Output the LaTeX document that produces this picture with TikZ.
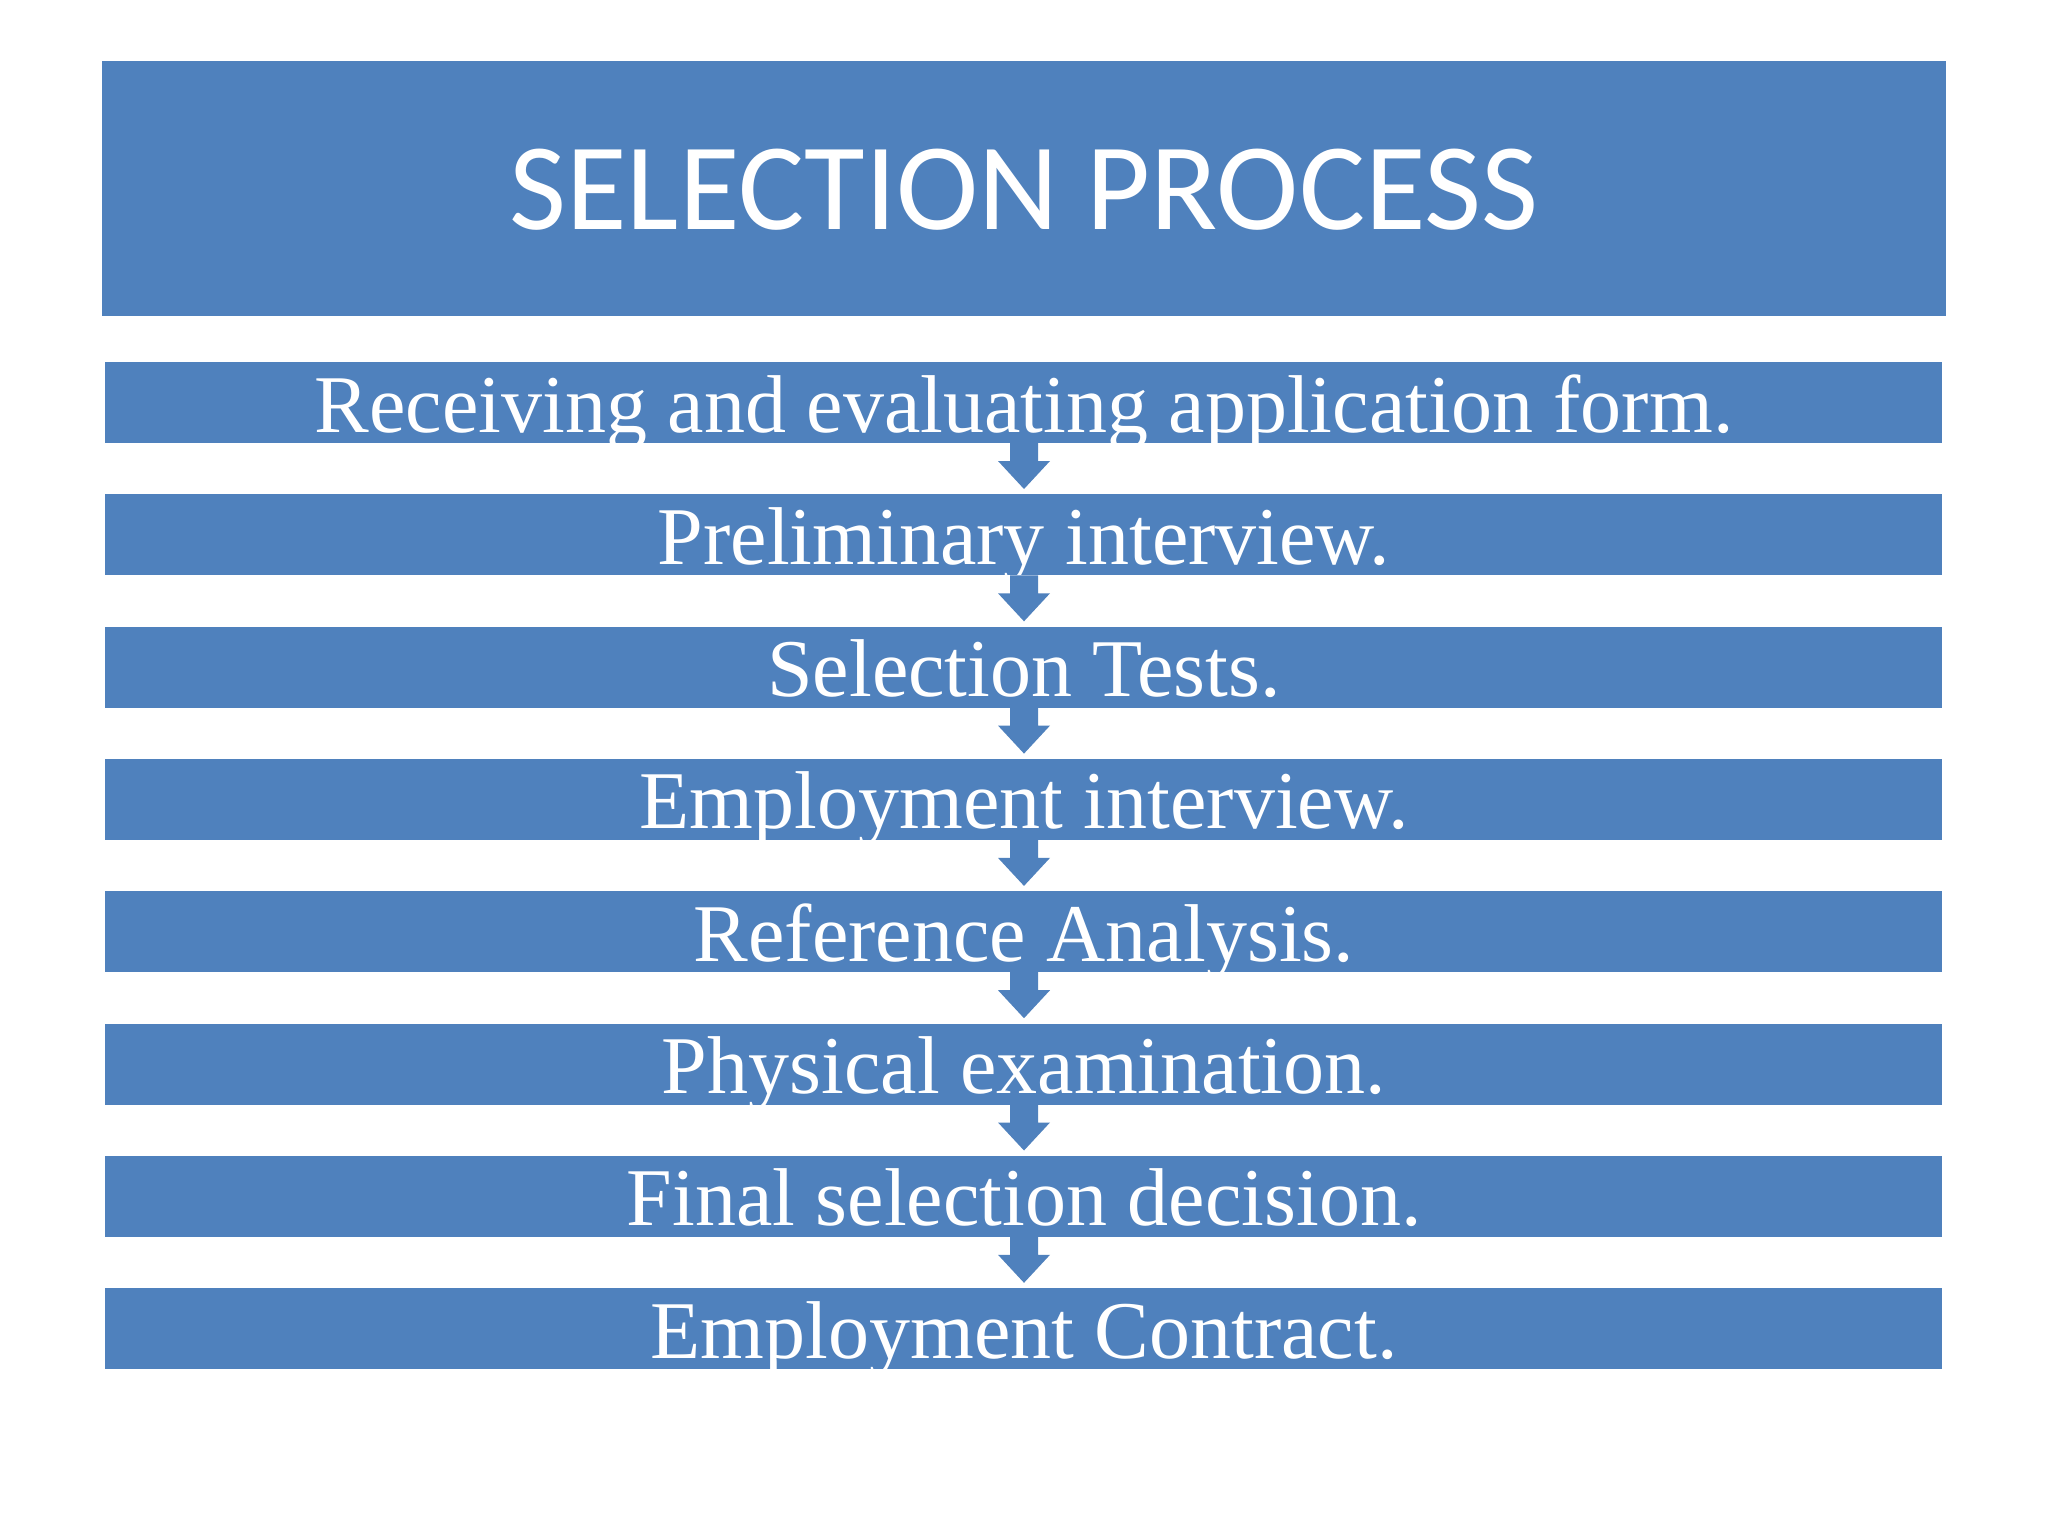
\documentclass[tikz,border=0pt]{standalone}
\usepackage{fontspec}
\setmainfont{Liberation Serif}
\newfontfamily\titlefont{Carlito}
\definecolor{bl}{HTML}{4F81BD}
\begin{document}
\begin{tikzpicture}[x=0.5pt,y=-0.5pt,
  bar/.style={fill=bl,draw=none},
  btxt/.style={text=white,font=\fontsize{41}{41}\selectfont,inner sep=0pt},
  arr/.style={fill=bl,draw=none}]
\useasboundingbox (0,0) rectangle (2048,1536);
\fill[white] (0,0) rectangle (2048,1536);
\fill[bl] (102,61) rectangle (1946,316);
\node[text=white,font=\titlefont\fontsize{62}{62}\selectfont] (title) at (1024,190) {SELECTION PROCESS};
\foreach \t [count=\i] in {Receiving and evaluating application form.,Preliminary interview.,Selection Tests.,Employment interview.,Reference Analysis.,Physical examination.,Final selection decision.,Employment Contract.}{
  \pgfmathsetmacro{\yt}{362+(\i-1)*132.3}
  \fill[bl] (105,\yt) rectangle (1942,\yt+81);
  \node[btxt,anchor=base] (b\i) at (1024,\yt+70) {\t};
}
\foreach \i in {1,...,7}{
  \pgfmathsetmacro{\yt}{362+(\i-1)*132.3+81}
  \fill[bl] (1010,\yt) -- (1038,\yt) -- (1038,\yt+18) -- (1050,\yt+18) -- (1024,\yt+46) -- (998,\yt+18) -- (1010,\yt+18) -- cycle;
}
\end{tikzpicture}
\end{document}
